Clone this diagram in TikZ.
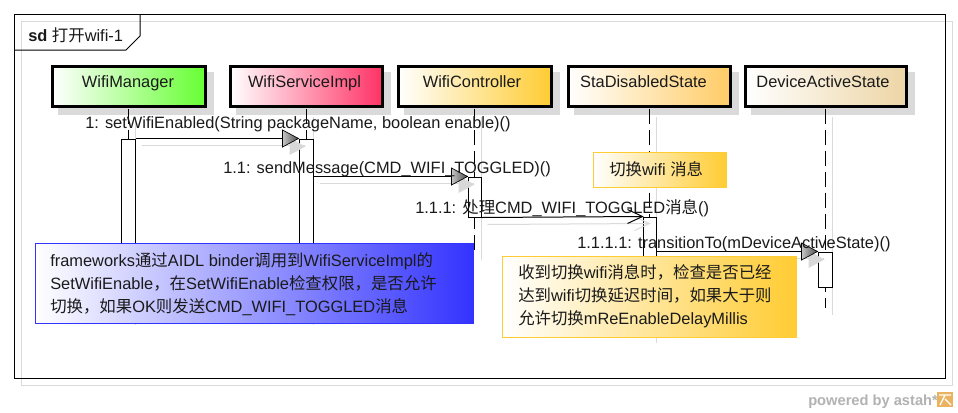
\documentclass[tikz,border=0pt]{standalone}
\usepackage{fontspec}
\setmainfont{Liberation Sans}
\newfontfamily\cjkfont{Noto Sans CJK SC}
\newcommand\zh[1]{{\cjkfont #1}}
\usetikzlibrary{fit,calc}
\pgfdeclarelayer{backlayer}
\pgfdeclarelayer{shadowlayer}
\pgfsetlayers{backlayer,shadowlayer,main}
\definecolor{shadowgray}{HTML}{DADADA}
\definecolor{headshade}{HTML}{D8D8D8}
\definecolor{wmgreen}{HTML}{66FF33}
\definecolor{wsipink}{HTML}{FF3366}
\definecolor{wcgold}{HTML}{FFCC33}
\definecolor{sdsorange}{HTML}{FFCC66}
\definecolor{dasbeige}{HTML}{EDD5A5}
\definecolor{noteblue}{HTML}{3333FF}
\definecolor{noteyellow}{HTML}{FFCC33}
\definecolor{textdark}{HTML}{1A1A1A}
\definecolor{logoorange}{HTML}{EBB260}
\begin{document}
\begin{tikzpicture}[x=0.75pt,y=-0.75pt,
  font=\fontsize{12.3pt}{17.25pt}\selectfont,
  lbox/.style={draw=black, line width=2.25pt, inner sep=0pt},
  act/.style={draw=black, fill=white, line width=0.75pt, inner sep=0pt},
  lifeline/.style={draw=black, line width=0.75pt, dash pattern=on 11.25pt off 4.5pt},
  shadowline/.style={draw=shadowgray, line width=0.75pt},
  msg/.style={draw=black, line width=0.75pt},
  txt/.style={inner sep=0pt, anchor=base west, text=textdark},
  ctxt/.style={inner sep=0pt, anchor=base, text=textdark},
  notebox/.style={line width=0.75pt, inner sep=0pt},
  pics/headfill/.style={code={\shade[draw=black, line width=0.5pt, left color=gray!45, right color=black!70] (0,0) -- (-16,-8.5) -- (-16,8.5) -- cycle;}},
  pics/headshadow/.style={code={\fill[headshade] (0,0) -- (-16,-8.5) -- (-16,8.5) -- cycle;}},
  pics/headopen/.style={code={\draw[line width=0.75pt] (-15,-7) -- (0,0) -- (-15,7);}},
  pics/headopenshadow/.style={code={\draw[shadowgray, line width=0.75pt] (-15,-7) -- (0,0) -- (-15,7);}}
]
\useasboundingbox (0,0) rectangle (958,412);
\begin{pgfonlayer}{backlayer}
\fill[white] (0,0) rectangle (958,412);
% frame
\draw[shadowline] (21,21) rectangle (952,385);
\draw[black, line width=0.75pt] (14,14) rectangle (945,378);
\draw[black, line width=0.75pt] (14,50) -- (126,50) -- (140,36) -- (140,14);
\end{pgfonlayer}
\node[txt] (title) at (28,41) {\textbf{sd} \zh{打开}wifi-1};

% lifeline heads
\node[lbox, left color=white, right color=wmgreen, fit={(52,66)(205,106)}] (wm) {};
\node[lbox, left color=white, right color=wsipink, fit={(230,66)(382,106)}] (wsi) {};
\node[lbox, left color=white, right color=wcgold, fit={(398,66)(551,106)}] (wc) {};
\node[lbox, left color=white, right color=sdsorange, fit={(568,66)(730,106)}] (sds) {};
\node[lbox, left color=white, right color=dasbeige, fit={(745,66)(906,106)}] (das) {};
\node[ctxt] (wmt) at (128,87) {WifiManager};
\node[ctxt] (wsit) at (304.5,87) {WifiServiceImpl};
\node[ctxt] (wct) at (472,87) {WifiController};
\node[ctxt] (sdst) at (643.5,87) {StaDisabledState};
\node[ctxt] (dast) at (823,87) {DeviceActiveState};

% lifeline ends
\coordinate (wmend) at (128.5,318);
\coordinate (wsiend) at (306,318);
\coordinate (wcend) at (474.5,253);
\coordinate (sdsend) at (649,336);
\coordinate (dasend) at (825.5,308);
\begin{pgfonlayer}{shadowlayer}
\foreach \b in {wm,wsi,wc,sds,das}{
  \fill[shadowgray] ($(\b.north west)+(7,7)$) rectangle ($(\b.south east)+(7,7)$);
  \draw[shadowline] ($(\b.south)+(7,9)$) -- ($(\b end)+(7,7)$);
}
\end{pgfonlayer}
\foreach \b in {wm,wsi,wc,sds,das}{
  \draw[lifeline] ($(\b.south)+(0,1)$) -- (\b end);
}

% activations
\node[act, fit={(121,139)(135,318)}] (a1) {};
\node[act, fit={(299,139)(313,318)}] (a2) {};
\node[act, fit={(468,177)(481,217)}] (a3) {};
\node[act, fit={(643,217)(656,320)}] (a4) {};
\node[act, fit={(818,252)(832,287)}] (a5) {};

% message shadows
\draw[shadowline] ($(a1.north east)+(6,7)$) -- ($(a2.north west)+(6,7)$);
\pic at ($(a2.north west)+(7,8)$) {headshadow};
\draw[shadowline] ($(a2.east |- a3.north)+(6,7)$) -- ($(a3.north west)+(6,7)$);
\pic at ($(a3.north west)+(7,8)$) {headshadow};
\draw[shadowline] ($(a3.south east)+(6,7)$) -- ($(a4.north west)+(6,7)$);
\pic at ($(a4.north west)+(7,7)$) {headopenshadow};
\draw[shadowline] ($(a4.east |- a5.north)+(6,7)$) -- ($(a5.north west)+(6,7)$);
\pic at ($(a5.north west)+(7,8)$) {headshadow};

% messages
\draw[msg] (a1.north east) -- (a2.north west);
\pic at (a2.north west) {headfill};
\draw[msg] (a2.east |- a3.north) -- (a3.north west);
\pic at (a3.north west) {headfill};
\draw[msg] (a3.south east) -- (a4.north west);
\pic at (a4.north west) {headopen};
\draw[msg] (a4.east |- a5.north) -- (a5.north west);
\pic at (a5.north west) {headfill};

% message labels
\node[txt] (m1) at (85,128) {1: setWifiEnabled(String packageName, boolean enable)()};
\node[txt] (m2) at (223,173) {1.1: sendMessage(CMD\_WIFI\_TOGGLED)()};
\node[txt] (m3) at (415,213) {1.1.1: \zh{处理}CMD\_WIFI\_TOGGLED\zh{消息}()};
\node[txt] (m4) at (577,248) {1.1.1.1: transitionTo(mDeviceActiveState)()};

% notes
\node[notebox, draw=noteyellow, left color=white, right color=noteyellow, fit={(593,152)(726,187)}] (n0) {};
\node[txt] (n0t) at (609,175) {\zh{切换}wifi \zh{消息}};

\node[notebox, draw=noteblue, left color=white, right color=noteblue, fit={(35,243)(473,323)}] (n1) {};
\node[txt] (n1a) at (50,266) {frameworks\zh{通过}AIDL binder\zh{调用到}WifiServiceImpl\zh{的}};
\node[txt] (n1b) at (50,289) {SetWifiEnable\zh{，在}SetWifiEnable\zh{检查权限，是否允许}};
\node[txt] (n1c) at (50,312) {\zh{切换，如果}OK\zh{则发送}CMD\_WIFI\_TOGGLED\zh{消息}};

\node[notebox, draw=noteyellow, left color=white, right color=noteyellow, fit={(502,256)(796,337)}] (n2) {};
\node[txt] (n2a) at (518,278) {\zh{收到切换}wifi\zh{消息时，检查是否已经}};
\node[txt] (n2b) at (518,301) {\zh{达到}wifi\zh{切换延迟时间，如果大于则}};
\node[txt] (n2c) at (518,324) {\zh{允许切换}mReEnableDelayMillis};

% footer
\node[inner sep=0pt, anchor=base west, text=black!30, font=\fontsize{11pt}{13pt}\selectfont\bfseries] (pw) at (808,405) {powered by astah*};
\fill[logoorange] (937,392) rectangle (953,407);
\draw[white, line width=1pt] (939,395) -- (951,395) (945,395) -- (940,405) (945,399) -- (951,405);
\end{tikzpicture}
\end{document}
